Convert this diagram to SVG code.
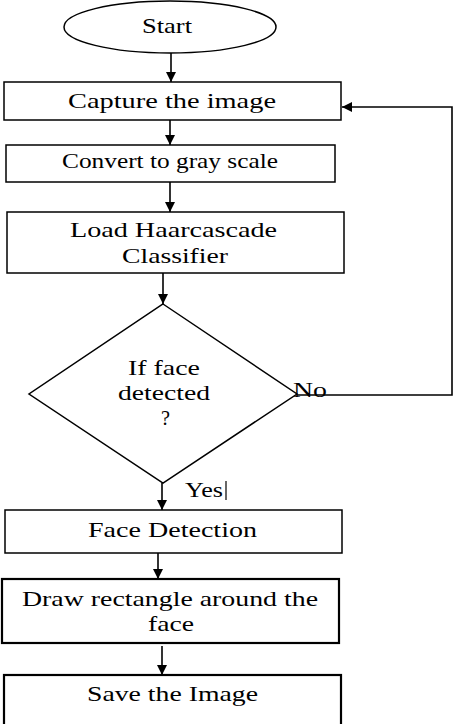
<svg xmlns="http://www.w3.org/2000/svg" width="456" height="724" viewBox="0 0 456 724">
<style>
.box{fill:#fff;stroke:#000;stroke-width:1.5}
.thick{stroke-width:2.2}
.t{font-family:"Liberation Serif","Times New Roman",serif;font-size:22px;fill:#000}
.c{fill:none;stroke:#000;stroke-width:1.6}
</style>
<defs>
<marker id="ah" viewBox="0 0 10 10" refX="10" refY="5" markerWidth="10" markerHeight="10" markerUnits="userSpaceOnUse" orient="auto">
<path d="M0,0 L10,5 L0,10 Z" fill="#000"/>
</marker>
</defs>
<rect width="456" height="724" fill="#fff"/>
<g id="start">
<ellipse class="box" cx="170" cy="27" rx="106" ry="26"/>
<text class="t" x="142" y="33" font-size="20" textLength="50" lengthAdjust="spacingAndGlyphs">Start</text>
</g>
<g id="capture">
<rect class="box" x="4" y="82" width="337" height="38"/>
<text class="t" x="68" y="108" textLength="208" lengthAdjust="spacingAndGlyphs">Capture the image</text>
</g>
<g id="convert">
<rect class="box" x="6" y="145" width="329" height="37"/>
<text class="t" x="62" y="168" font-size="20" textLength="216" lengthAdjust="spacingAndGlyphs">Convert to gray scale</text>
</g>
<g id="load">
<rect class="box" x="7" y="212" width="337" height="61"/>
<text class="t" x="70" y="237" textLength="207" lengthAdjust="spacingAndGlyphs">Load Haarcascade</text>
<text class="t" x="122" y="263" textLength="106" lengthAdjust="spacingAndGlyphs">Classifier</text>
</g>
<g id="decision">
<polygon class="box" points="163,304 297,394 163,483 29,394"/>
<text class="t" x="128" y="375" textLength="72" lengthAdjust="spacingAndGlyphs">If face</text>
<text class="t" x="118" y="400" textLength="92" lengthAdjust="spacingAndGlyphs">detected</text>
<text class="t" x="161" y="425" textLength="9" lengthAdjust="spacingAndGlyphs">?</text>
</g>
<g id="facedet">
<rect class="box" x="5" y="510" width="337" height="43"/>
<text class="t" x="88" y="537" textLength="169" lengthAdjust="spacingAndGlyphs">Face Detection</text>
</g>
<g id="drawrect">
<rect class="box thick" x="2" y="579" width="337" height="64"/>
<text class="t" x="22" y="606" textLength="296" lengthAdjust="spacingAndGlyphs">Draw rectangle around the</text>
<text class="t" x="148" y="631" textLength="46" lengthAdjust="spacingAndGlyphs">face</text>
</g>
<g id="save">
<rect class="box thick" x="4" y="675" width="337" height="60"/>
<text class="t" x="87" y="701" textLength="171" lengthAdjust="spacingAndGlyphs">Save the Image</text>
</g>
<g id="connectors">
<line class="c" x1="171" y1="53" x2="171" y2="82" marker-end="url(#ah)"/>
<line class="c" x1="170" y1="120" x2="170" y2="145" marker-end="url(#ah)"/>
<line class="c" x1="170" y1="182" x2="170" y2="212" marker-end="url(#ah)"/>
<line class="c" x1="163" y1="273" x2="163" y2="304" marker-end="url(#ah)"/>
<polyline class="c" points="297,395 452,395 452,107 342,107" marker-end="url(#ah)"/>
<line class="c" x1="162" y1="483" x2="162" y2="510" marker-end="url(#ah)"/>
<line class="c" x1="158" y1="553" x2="158" y2="579" marker-end="url(#ah)"/>
<line class="c" x1="162" y1="646" x2="162" y2="675" marker-end="url(#ah)"/>
<text class="t" x="293" y="397" textLength="34" lengthAdjust="spacingAndGlyphs">No</text>
<text class="t" x="185" y="497" textLength="38" lengthAdjust="spacingAndGlyphs">Yes</text>
<line x1="226" y1="481" x2="226" y2="500" stroke="#000" stroke-width="1.2"/>
</g>
</svg>
